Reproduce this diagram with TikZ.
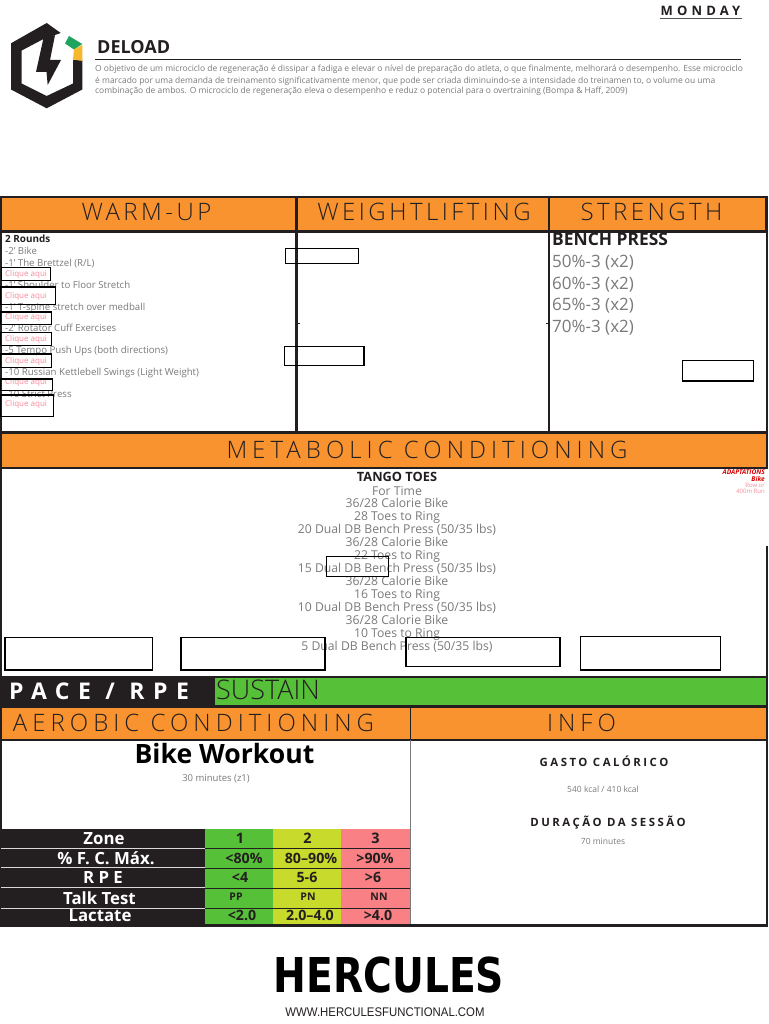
\documentclass[tikz,border=0pt]{standalone}
\usepackage{graphicx}
\usepackage{fontspec}
\setmainfont{Open Sans}
\newfontfamily\trackfont[LetterSpace=14.5]{Open Sans Light}
\newfontfamily\roomfont[LetterSpace=21]{Open Sans Light}
\newfontfamily\thinfont{Open Sans Light}
\newfontfamily\widefont[LetterSpace=22]{Open Sans}
\newfontfamily\pacefont[LetterSpace=37]{Open Sans}
\newfontfamily\dayfont[LetterSpace=32]{Open Sans}
\newfontfamily\webfont{Liberation Sans}
\newfontfamily\brandfont{DejaVu Sans}
\newcommand{\fsz}[1]{\fontsize{#1}{#1}\selectfont}
\definecolor{sheetdark}{HTML}{231F20}
\definecolor{barorange}{HTML}{F9932F}
\definecolor{zonegreen}{HTML}{56C138}
\definecolor{zoneyellow}{HTML}{C8DA2B}
\definecolor{zonered}{HTML}{F98084}
\definecolor{bodygray}{HTML}{7A7A7A}
\definecolor{linkpink}{HTML}{F98A9A}
\definecolor{logogreen}{HTML}{1FA45E}
\definecolor{logoyellow}{HTML}{F5B82E}
\begin{document}
\begin{tikzpicture}[x=1pt,y=-1pt,
    every node/.style={inner sep=0pt},
    sz/.style={text height=#1*.86pt,text depth=#1*.2pt},
    head node/.style={sz=24,text=sheetdark,font=\fsz{24}\trackfont},
    room node/.style={sz=24,text=sheetdark,font=\fsz{24}\roomfont},
    line node/.style={sz=9.65,anchor=west,text=bodygray,font=\fsz{9.65}},
    link node/.style={sz=8,anchor=west,text=linkpink,font=\fsz{8}},
    load node/.style={sz=17,anchor=west,text=bodygray,font=\fsz{17}},
    wod node/.style={sz=12.2,text=bodygray,font=\fsz{12.2}},
    row node/.style={sz=16.8,text=white,font=\fsz{16.8}\bfseries},
    cell node/.style={sz=14.2,text=sheetdark,font=\fsz{14.2}\bfseries},
    info node/.style={sz=11.4,text=sheetdark,font=\fsz{11.4}\bfseries\widefont},
    note node/.style={sz=8.5,text=bodygray,font=\fsz{8.5}},
    intro node/.style={sz=8.47,anchor=west,text=bodygray,font=\fsz{8.47}},
    adapt node/.style={sz=6,anchor=east,font=\fsz{6}},
    box/.style={draw=black,line width=1.2pt}]
    \useasboundingbox (0,0) rectangle (768,1024);
    \fill[white] (0,0) rectangle (768,1024);

    \fill[sheetdark] (0,196) rectangle (768,233);
    \fill[barorange] (2,198) rectangle (765,230.5);
    \fill[sheetdark] (295,196) rectangle (298,433);
    \fill[sheetdark] (547.5,196) rectangle (549.5,433);
    \fill[sheetdark] (0,431) rectangle (768,469);
    \fill[barorange] (2,433.5) rectangle (766,466.5);
    \fill[sheetdark] (0,233) rectangle (2,925);
    \fill[sheetdark] (765.5,233) rectangle (768,431);
    \fill[sheetdark] (766,546) rectangle (768,925);
    \fill[sheetdark] (298,322.5) rectangle (300,323.5);
    \fill[sheetdark] (546,322.5) rectangle (547.5,323.5);

    \fill[sheetdark] (0,675.5) rectangle (768,740.5);
    \fill[zonegreen] (215,677.5) rectangle (765.5,704.5);
    \fill[barorange] (2,707.5) rectangle (409.5,738.5);
    \fill[barorange] (411,707.5) rectangle (766,738.5);
    \fill[bodygray] (409.7,740) rectangle (410.7,924);

    \fill[sheetdark] (0,828.5) rectangle (205,924);
    \fill[zonegreen] (205,829) rectangle (273,924);
    \fill[zoneyellow] (273,829) rectangle (341,924);
    \fill[zonered] (341,829) rectangle (409.7,924);
    \draw[sheetdark,line width=.8pt] (205,848.5) -- (409.7,848.5);
    \draw[sheetdark,line width=.8pt] (205,868) -- (409.7,868);
    \draw[sheetdark,line width=.8pt] (205,888.5) -- (409.7,888.5);
    \draw[sheetdark,line width=.8pt] (205,908.5) -- (409.7,908.5);
    \draw[white!85!black,line width=1pt] (1,848.5) -- (205,848.5);
    \draw[white!85!black,line width=1pt] (1,867) -- (205,867);
    \draw[white!85!black,line width=1pt] (1,887.5) -- (205,887.5);
    \draw[white!85!black,line width=1pt] (1,908) -- (205,908);
    \fill[sheetdark] (0,924) rectangle (768,926.5);

    \fill[sheetdark] (46.7,23) -- (60.7,33) -- (43.5,39) -- (21.7,50.5) -- (21.7,83.5) -- (46.7,96) -- (73,83.5) -- (73,60) -- (82.3,60) -- (82.3,89.5) -- (46.7,108.3) -- (11,89.5) -- (11,43.3) -- cycle;
    \fill[sheetdark] (43.5,38) -- (36,72) -- (46.5,72) -- (47.7,85) -- (61,60) -- (50,60) -- (55,35) -- cycle;
    \fill[logogreen] (65,43.5) -- (69,36) -- (82.3,44) -- (74,49.5) -- cycle;
    \fill[logoyellow] (74,49.5) -- (82.3,45) -- (82.3,61) -- (73,59.5) -- cycle;

    \node[sz=18,anchor=west,text=sheetdark,font=\fsz{18}\bfseries] (deload) at (97,47.5) {DELOAD};
    \draw[sheetdark,line width=1pt] (95,60) -- (741,60);
    \node[intro node] (intro1) at (95,69) {O objetivo de um microciclo de regeneração é dissipar a fadiga e elevar o nível de preparação do atleta, o que finalmente, melhorará o desempenho. Esse microciclo};
    \node[intro node] (intro2) at (95,80.5) {é marcado por uma demanda de treinamento significativamente menor, que pode ser criada diminuindo-se a intensidade do treinamen to, o volume ou uma};
    \node[intro node] (intro3) at (95,91) {combinação de ambos. O microciclo de regeneração eleva o desempenho e reduz o potencial para o overtraining (Bompa \& Haff, 2009)};
    \node[sz=13,anchor=east,text=sheetdark,font=\fsz{13}\bfseries\dayfont] (monday) at (740.5,11) {MONDAY};
    \draw[bodygray!70!black,line width=1pt] (660,19) -- (742,19);

    \node[head node] (warmup) at (146.5,212.5) {WARM-UP};
    \node[head node] (weightlifting) at (424,213) {WEIGHTLIFTING};
    \node[head node] (strength) at (651.5,212.5) {STRENGTH};
    \node[room node] (metabolic) at (427,450.5) {METABOLIC CONDITIONING};
    \node[room node] (aerobic) at (193.5,723.5) {AEROBIC CONDITIONING};
    \node[room node] (info) at (581.5,723.5) {INFO};

    \node[sz=9.9,anchor=west,text=sheetdark,font=\fsz{9.9}\bfseries] (rounds) at (5,239) {2 Rounds};
    \node[line node] (bike) at (5,251) {-2' Bike};
    \node[line node] (brettzel) at (5,263.5) {-1' The Brettzel (R/L)};
    \node[link node] (link1) at (5,273.5) {Clique aqui};
    \node[line node] (shoulder) at (5,285.5) {-1' Shoulder to Floor Stretch};
    \node[link node] (link2) at (5,295.5) {Clique aqui};
    \node[line node] (tspine) at (5,307) {-1' T-spine stretch over medball};
    \node[link node] (link3) at (5,317) {Clique aqui};
    \node[line node] (rotator) at (5,328.5) {-2' Rotator Cuff Exercises};
    \node[link node] (link4) at (5,338.5) {Clique aqui};
    \node[line node] (pushups) at (5,350.5) {-5 Tempo Push Ups (both directions)};
    \node[link node] (link5) at (5,360.5) {Clique aqui};
    \node[line node] (swings) at (5,372) {-10 Russian Kettlebell Swings (Light Weight)};
    \node[link node] (link6) at (5,382) {Clique aqui};
    \node[line node] (press) at (5,394) {-10 Strict Press};
    \node[link node] (link7) at (5,404) {Clique aqui};

    \node[sz=17.4,anchor=west,text=sheetdark,font=\fsz{17.4}\bfseries] (bench) at (552,240) {BENCH PRESS};
    \node[load node] (load1) at (552,262) {50\%-3 (x2)};
    \node[load node] (load2) at (552,283.5) {60\%-3 (x2)};
    \node[load node] (load3) at (552,305) {65\%-3 (x2)};
    \node[load node] (load4) at (552,327) {70\%-3 (x2)};

    \node[sz=12.8,text=sheetdark,font=\fsz{12.8}\bfseries] (tango) at (397,477.5) {TANGO TOES};
    \node[wod node] (wod1) at (397,491) {For Time};
    \node[wod node] (wod2) at (397,503.5) {36/28 Calorie Bike};
    \node[wod node] (wod3) at (397,516.5) {28 Toes to Ring};
    \node[wod node] (wod4) at (397,529) {20 Dual DB Bench Press (50/35 lbs)};
    \node[wod node] (wod5) at (397,542.5) {36/28 Calorie Bike};
    \node[wod node] (wod6) at (397,555) {22 Toes to Ring};
    \node[wod node] (wod7) at (397,568.5) {15 Dual DB Bench Press (50/35 lbs)};
    \node[wod node] (wod8) at (397,581) {36/28 Calorie Bike};
    \node[wod node] (wod9) at (397,594) {16 Toes to Ring};
    \node[wod node] (wod10) at (397,607) {10 Dual DB Bench Press (50/35 lbs)};
    \node[wod node] (wod11) at (397,620) {36/28 Calorie Bike};
    \node[wod node] (wod12) at (397,633) {10 Toes to Ring};
    \node[wod node] (wod13) at (397,646) {5 Dual DB Bench Press (50/35 lbs)};

    \node[adapt node,text=red!85!black,font=\fsz{6.6}\bfseries\itshape] (adapt) at (765,472.5) {ADAPTATIONS};
    \node[adapt node,text=red!85!black,font=\fsz{6.6}\bfseries\itshape] (adaptbike) at (765,480) {Bike};
    \node[adapt node,text=linkpink] (adaptrow) at (765,486) {Row or};
    \node[adapt node,text=linkpink] (adaptrun) at (765,492) {400m Run};

    \node[sz=23,anchor=west,text=white,font=\fsz{23}\bfseries\pacefont] (pace) at (9,692) {PACE / RPE};
    \node[sz=27,anchor=west,text=sheetdark,font=\fsz{27}\thinfont] (sustain) at (216,690.5) {SUSTAIN};

    \node[sz=26.6,text=black,font=\fsz{26.6}\bfseries] (workout) at (224.5,755) {Bike Workout};
    \node[note node,sz=9.5,font=\fsz{9.5}] (minutes) at (216,778.5) {30 minutes (z1)};

    \node[row node] (zone) at (104,839) {Zone};
    \node[row node] (fcmax) at (106,859) {\% F. C. Máx.};
    \node[row node] (rpe) at (103,878) {R P E};
    \node[row node] (talk) at (99.5,899) {Talk Test};
    \node[row node] (lactate) at (100,916) {Lactate};

    \node[cell node,font=\fsz{14.5}\bfseries] (zone1) at (240,839) {1};
    \node[cell node,font=\fsz{14.5}\bfseries] (zone2) at (307.5,839) {2};
    \node[cell node,font=\fsz{14.5}\bfseries] (zone3) at (375.5,839) {3};
    \node[cell node] (fc1) at (244,859) {<80\%};
    \node[cell node] (fc2) at (311,859) {80–90\%};
    \node[cell node] (fc3) at (375,859) {>90\%};
    \node[cell node] (rpe1) at (240,878) {<4};
    \node[cell node] (rpe2) at (307,878) {5-6};
    \node[cell node] (rpe3) at (373,878) {>6};
    \node[cell node,sz=10.5,font=\fsz{10.5}\bfseries] (talk1) at (236,897.5) {PP};
    \node[cell node,sz=10.5,font=\fsz{10.5}\bfseries] (talk2) at (308,897.5) {PN};
    \node[cell node,sz=10.5,font=\fsz{10.5}\bfseries] (talk3) at (379,897.5) {NN};
    \node[cell node] (lac1) at (242,916) {<2.0};
    \node[cell node] (lac2) at (310,916) {2.0–4.0};
    \node[cell node] (lac3) at (378,916) {>4.0};

    \node[info node] (gasto) at (604,763) {GASTO CALÓRICO};
    \node[note node] (kcal) at (603,790) {540 kcal / 410 kcal};
    \node[info node] (duracao) at (608,823) {DURAÇÃO DA SESSÃO};
    \node[note node] (seventy) at (603,842) {70 minutes};

    \node[sz=48,text=black,font=\fsz{48}\bfseries\brandfont] (hercules) at (389,977) {\scalebox{.817}[1]{HERCULES}};
    \node[sz=12.5,text=sheetdark,font=\fsz{12.5}\webfont] (web) at (385,1012) {\scalebox{.91}[1]{WWW.HERCULESFUNCTIONAL.COM}};

    \draw[box] (1.7,267.3) rectangle (50.7,280.7);
    \draw[box] (0,287) rectangle (55.7,304.3);
    \draw[box] (0,312) rectangle (51.7,324.3);
    \draw[box] (0,332.7) rectangle (51.7,345.7);
    \draw[box] (0,354) rectangle (51.7,367.7);
    \draw[box] (0,379) rectangle (52.7,390.7);
    \draw[box] (0,395) rectangle (53.3,416.7);
    \draw[box,line width=.8pt] (285.3,248.3) rectangle (358,263.3);
    \draw[box,line width=1.4pt] (284.7,346.7) rectangle (364,365.3);
    \draw[box,line width=1.4pt] (682.7,360.7) rectangle (753.3,381);
    \draw[box,line width=.8pt] (326.7,556.7) rectangle (388.7,576.7);
    \draw[box] (5,637.7) rectangle (152.3,670);
    \draw[box] (181,637.7) rectangle (325,670);
    \draw[box] (406,637.7) rectangle (560,666.7);
    \draw[box] (580.3,636.7) rectangle (720.7,670);
\end{tikzpicture}
\end{document}
